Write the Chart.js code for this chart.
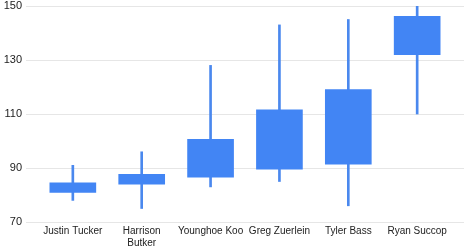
<html>
<script src="https://cdn.jsdelivr.net/npm/chart.js@4.4.0/dist/chart.umd.min.js"></script>
<style>
  body { margin: 0; background: #fff; }
</style>
<body>
<canvas id="myChart" width="474" height="248"></canvas>
<script>
  // kickers, candlestick-ish: low / open / close / high
  var names = ['Justin Tucker', ['Harrison', 'Butker'], 'Younghoe Koo', 'Greg Zuerlein', 'Tyler Bass', 'Ryan Succop'];
  var lows   = [78, 75, 83, 85, 76, 110];
  var opens  = [81, 84, 86.6, 89.6, 91.4, 132];
  var closes = [84.5, 87.7, 100.6, 111.5, 119, 146.2];
  var highs  = [91, 96, 128, 143, 145, 150];
  var yTicks = [70, 90, 110, 130, 150];

  var boxData = names.map(function (n, i) { return { x: i, y: [opens[i], closes[i]] }; });
  var whiskerData = names.map(function (n, i) { return { x: i, y: [lows[i], highs[i]] }; });

  var ctx = document.getElementById('myChart').getContext('2d');
  var chart = new Chart(ctx, {
    type: 'bar',
    data: {
      datasets: [
        {
          label: 'box',
          data: boxData,
          backgroundColor: '#4285f4',
          borderWidth: 0,
          barThickness: 46,
          grouped: false,
          order: 1
        },
        {
          label: 'whisker',
          data: whiskerData,
          backgroundColor: '#4a88ee',
          borderWidth: 0,
          barThickness: 2,
          grouped: false,
          order: 2
        }
      ]
    },
    options: {
      responsive: false,
      animation: false,
      layout: { padding: { top: 0, right: 10, left: 0, bottom: 0 } },
      plugins: { legend: { display: false }, tooltip: { enabled: false } },
      scales: {
        x: {
          type: 'linear',
          min: -0.68,
          max: 5.68,
          offset: false,
          grid: { display: false, drawTicks: false },
          border: { display: false },
          afterBuildTicks: function (axis) {
            axis.ticks = names.map(function (n, i) { return { value: i }; });
          },
          ticks: {
            autoSkip: false,
            maxRotation: 0,
            padding: 3,
            color: '#222',
            font: { family: '"Liberation Sans", Arial, sans-serif', size: 10 },
            callback: function (v) { return names[v]; }
          },
          afterFit: function (axis) { axis.height = 26; }
        },
        y: {
          min: 70,
          max: 150,
          afterBuildTicks: function (axis) {
            axis.ticks = yTicks.map(function (v) { return { value: v }; });
          },
          grid: { color: '#e6e6e6', lineWidth: 1, drawTicks: false },
          border: { display: false },
          ticks: {
            padding: 4,
            color: '#222',
            font: { family: '"Liberation Sans", Arial, sans-serif', size: 11 }
          },
          afterFit: function (axis) { axis.width = 26; axis.paddingTop = 6; }
        }
      }
    }
  });
</script>
</body>
</html>
